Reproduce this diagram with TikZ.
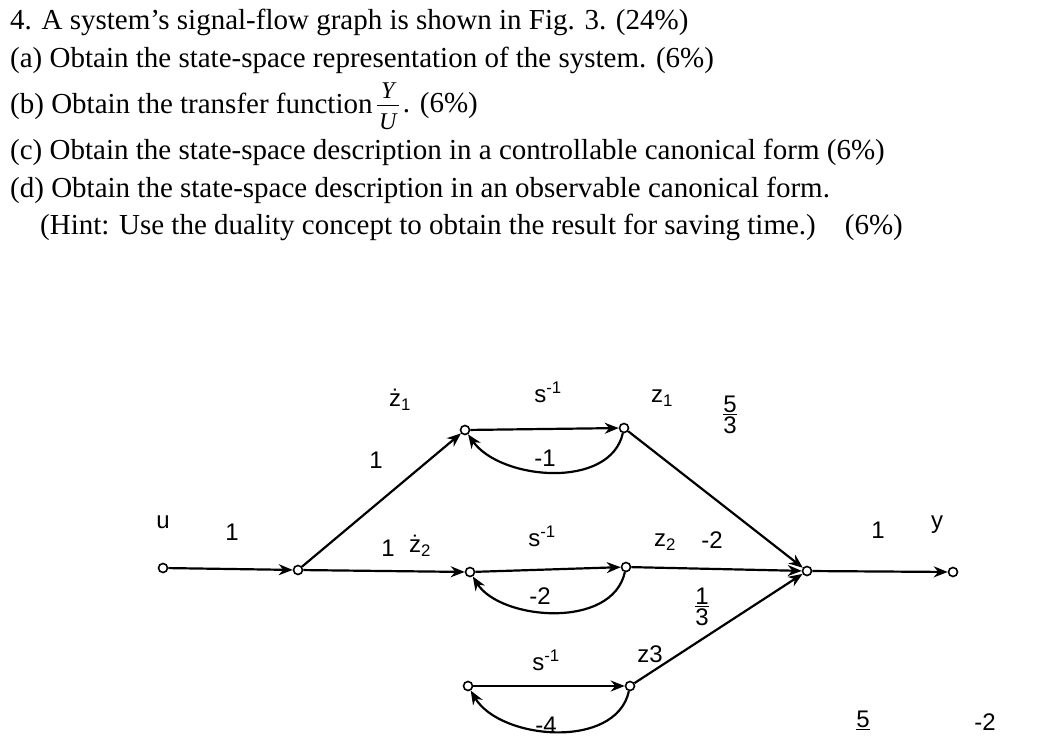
\documentclass[tikz,border=0pt]{standalone}
\usepackage{fontspec}
\setmainfont{Liberation Serif}
\newfontfamily\hand{Liberation Sans}
\usetikzlibrary{arrows.meta}
\newcommand\myfrc[2]{\begin{tabular}{@{}c@{}}#1\\[-6pt]\hline\rule{0pt}{0.8em}#2\end{tabular}}
\begin{document}
\begin{tikzpicture}[x=1pt,y=-1pt,
  nd/.style={circle,draw,line width=1.6pt,inner sep=0pt,minimum size=9pt},
  br/.style={line width=2.2pt,-{Stealth[length=14pt,width=11pt]}},
  lb/.style={font=\hand\fontsize{24}{26}\selectfont},
  tx/.style={anchor=west,font=\fontsize{29}{32}\selectfont,inner sep=0pt}]
\useasboundingbox (0,0) rectangle (1038,746);
\node[tx] at (10,22) {4. A system’s signal-flow graph is shown in Fig. 3. (24\%)};
\node[tx] at (10,60) {(a) Obtain the state-space representation of the system. (6\%)};
\node[tx] (bt) at (10,106) {(b) Obtain the transfer function};
\node[inner sep=0pt,font=\fontsize{24}{26}\selectfont\itshape] (yu) at ([xshift=15pt,yshift=15pt]bt.east) {Y};
\node[inner sep=0pt,font=\fontsize{24}{26}\selectfont\itshape] (uu) at ([xshift=15pt,yshift=-16pt]bt.east) {U};
\draw[line width=1pt] ([xshift=4pt,yshift=0pt]bt.east) -- ++(22,0);
\node[tx] at ([xshift=30pt]bt.east) {. (6\%)};
\node[tx] at (10,152) {(c) Obtain the state-space description in a controllable canonical form (6\%)};
\node[tx] at (10,190) {(d) Obtain the state-space description in an observable canonical form.};
\node[tx] at (40,227) {(Hint: Use the duality concept to obtain the result for saving time.)\quad(6\%)};

\node[nd] (u) at (163,568) {};
\node[nd] (a) at (298,570) {};
\node[nd] (x1d) at (465,430) {};
\node[nd] (x1) at (624,428) {};
\node[nd] (x2d) at (470,572) {};
\node[nd] (x2) at (626,567) {};
\node[nd] (x3d) at (468,686) {};
\node[nd] (x3) at (630,686) {};
\node[nd] (s) at (807,571) {};
\node[nd] (y) at (953,572) {};

\draw[br] (u) -- (a);
\draw[br] (a) -- (x1d);
\draw[br] (a) -- (x2d);
\draw[br] (x1d) -- (x1);
\draw[br] (x2d) -- (x2);
\draw[br] (x3d) -- (x3);
\draw[br] (x1) -- (s);
\draw[br] (x2) -- (s);
\draw[br] (x3) -- (s);
\draw[br] (s) -- (y);
\draw[br] (x1) .. controls (610,490) and (500,480) .. (x1d);
\draw[br] (x2) .. controls (612,630) and (500,620) .. (x2d);
\draw[br] (x3) .. controls (616,750) and (500,740) .. (x3d);

\node[lb] at (163,522) {u};
\node[lb] at (232,532) {1};
\node[lb] at (376,460) {1};
\node[lb] at (400,400) {ż\textsubscript{1}};
\node[lb] at (548,392) {s\textsuperscript{-1}};
\node[lb] at (662,398) {z\textsubscript{1}};
\node[lb] at (730,418) {\myfrc{5}{3}};
\node[lb] at (545,458) {-1};
\node[lb] at (388,548) {1};
\node[lb] at (420,546) {ż\textsubscript{2}};
\node[lb] at (542,536) {s\textsuperscript{-1}};
\node[lb] at (665,542) {z\textsubscript{2}};
\node[lb] at (712,540) {-2};
\node[lb] at (540,596) {-2};
\node[lb] at (702,610) {\myfrc{1}{3}};
\node[lb] at (546,660) {s\textsuperscript{-1}};
\node[lb] at (650,654) {z3};
\node[lb] at (546,725) {-4};
\node[lb] at (878,530) {1};
\node[lb] at (937,525) {y};
\node[lb] at (863,733) {\myfrc{5}{\phantom{3}}};
\node[lb] at (985,722) {-2};
\end{tikzpicture}
\end{document}
